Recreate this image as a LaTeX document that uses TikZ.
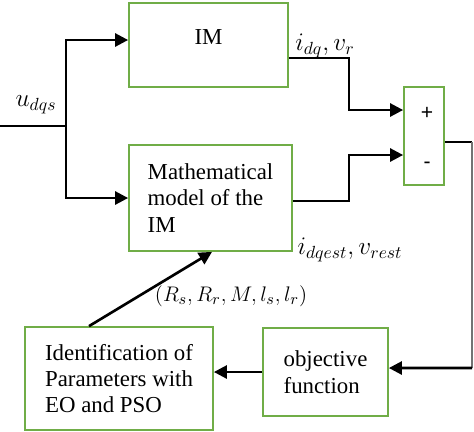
\documentclass[tikz,border=0pt]{standalone}
\usepackage{fontspec}
\setmainfont{Liberation Serif}
\newfontfamily\signfont{Liberation Sans}
\usetikzlibrary{arrows.meta}
\definecolor{boxgreen}{RGB}{112,173,71}
\tikzset{
    block/.style={draw=boxgreen, line width=1pt, align=left, inner sep=0pt, font=\fontsize{13}{15}\selectfont},
    sig/.style={line width=1.5pt, -{Triangle[length=2.6mm, width=2.6mm]}},
    lbl/.style={font=\fontsize{13}{15}\selectfont, inner sep=0pt}
}
\begin{document}
\begin{tikzpicture}
    	\useasboundingbox (0, 0) rectangle (9.48, -8.62);
    	% blocks
    	\node[block, minimum width=3.18cm, minimum height=1.68cm, label={[lbl, anchor=center, yshift=-0.7cm]north:IM}] (im) at (4.17, -0.9) {};
    	\node[block, minimum width=3.26cm, minimum height=2.12cm] (model) at (4.21, -3.96) {Mathematical\\model of the\\IM};
    	\node[block, minimum width=0.8cm, minimum height=1.96cm] (sum) at (8.48, -2.72) {};
    	\node[font=\signfont\large] (plus) at (8.54, -2.26) {+};
    	\node[font=\signfont\large] (minus) at (8.54, -3.3) {-};
    	\node[block, minimum width=2.5cm, minimum height=1.76cm] (obj) at (6.51, -7.44) {objective\\function};
    	\node[block, minimum width=3.76cm, minimum height=2.06cm] (ident) at (2.38, -7.57) {Identification of\\Parameters with\\EO and PSO};
    	% signals
    	\coordinate (in) at (0, -2.52);
    	\coordinate (split) at (1.32, -2.52);
    	\draw[line width=1.5pt] (in) -- (split);
    	\draw[sig] (split) |- ([yshift=0.1cm]im.west);
    	\draw[sig] (split) |- (model.west);
    	\draw[sig] ([yshift=-0.26cm]im.east) -| (6.98, -2.2) -- ([yshift=0.52cm]sum.west);
    	\draw[sig] ([yshift=-0.06cm]model.east) -| (6.98, -3.1) -- ([yshift=-0.38cm]sum.west);
    	\draw[line width=0.6pt] ([yshift=-0.12cm]sum.east) -- (9.44, -2.84);
    	\draw[line width=1.5pt, draw=black!55] (9.44, -2.84) -- (9.44, -7.36);
    	\draw[sig] (9.44, -7.36) -- ([yshift=0.08cm]obj.east);
    	\draw[sig] (obj.west |- ident.east) ++(0, 0.13) -- ([yshift=0.13cm]ident.east);
    	\draw[sig] ([xshift=-0.6cm]ident.north) -- ([xshift=0.03cm]model.south);
    	% labels
    	\node[lbl, font=\fontsize{14}{15}\selectfont] (udqs) at (0.72, -2.1) {$u_{dqs}$};
    	\node[lbl, font=\fontsize{14}{15}\selectfont] (idq) at (6.5, -0.92) {$i_{dq}, v_r$};
    	\node[lbl, font=\fontsize{14}{15}\selectfont] (idqest) at (7.0, -5.0) {$i_{dqest}, v_{rest}$};
    	\node[lbl] (params) at (4.62, -5.92) {$(R_s, R_r, M, l_s, l_r)$};
\end{tikzpicture}
\end{document}
